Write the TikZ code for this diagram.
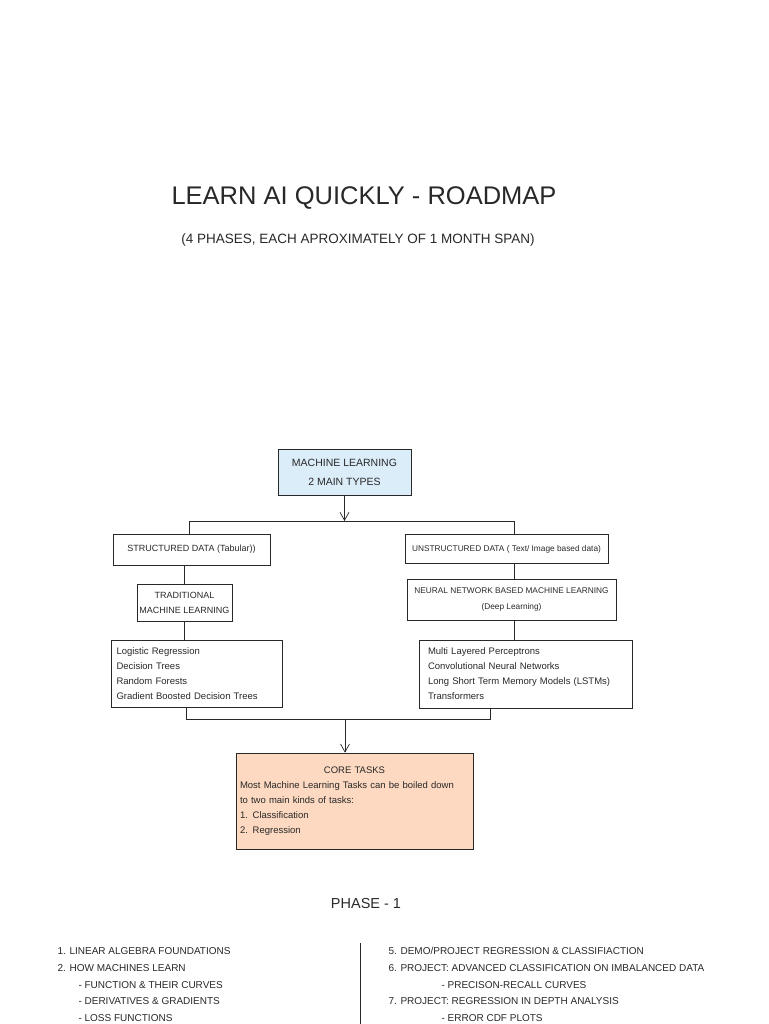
\documentclass[tikz,border=0pt]{standalone}
\usepackage{fontspec}
\setmainfont{Liberation Sans}
\usetikzlibrary{arrows.meta}
\definecolor{mlblue}{RGB}{220,237,250}
\definecolor{peach}{RGB}{252,217,192}
\definecolor{ink}{RGB}{40,40,40}
\begin{document}
\begin{tikzpicture}[x=1pt,y=-1pt,
  box/.style={draw=ink,line width=0.7pt,inner sep=0pt,font=\fontsize{9}{11}\selectfont,text=ink},
  conn/.style={draw=ink,line width=0.7pt},
  arr/.style={conn,-{Straight Barb[length=8pt,width=9pt]}},
  lst/.style={anchor=west,font=\fontsize{10}{12}\selectfont,text=ink}]
\useasboundingbox (0,0) rectangle (768,1024);
\node[text=ink,font=\fontsize{25.5}{30}\selectfont] (title) at (364,198) {LEARN AI QUICKLY - ROADMAP};
\node[text=ink,font=\fontsize{13.5}{16}\selectfont] (sub) at (358,240) {(4 PHASES, EACH APROXIMATELY OF 1 MONTH SPAN)};

\node[box,fill=mlblue,minimum width=133pt,minimum height=46pt,align=center,font=\fontsize{10.5}{19}\selectfont] (ml) at (344.5,472) {MACHINE LEARNING\\2 MAIN TYPES};
\node[box,minimum width=157pt,minimum height=31pt] (sd) at (191.5,549.5) {STRUCTURED DATA (Tabular))};
\node[box,minimum width=203pt,minimum height=29pt,font=\fontsize{8.3}{11}\selectfont] (ud) at (506.5,549) {UNSTRUCTURED DATA ( Text/ Image based data)};
\node[box,minimum width=95pt,minimum height=37pt,align=center,font=\fontsize{9}{15}\selectfont] (tml) at (184.5,602.5) {TRADITIONAL\\MACHINE LEARNING};
\node[box,minimum width=209pt,minimum height=41pt,align=center,font=\fontsize{8.3}{16}\selectfont] (nn) at (511.5,599.5) {NEURAL NETWORK BASED MACHINE LEARNING\\(Deep Learning)};
\node[box,minimum width=171pt,minimum height=67pt,align=left,text width=160pt,inner xsep=5pt,font=\fontsize{9.5}{15}\selectfont] (ll) at (196.5,673.5) {Logistic Regression\\Decision Trees\\Random Forests\\Gradient Boosted Decision Trees};
\node[box,minimum width=213pt,minimum height=68pt,align=left,text width=195pt,inner xsep=5pt,font=\fontsize{9.5}{15}\selectfont] (rl) at (525.5,674) {Multi Layered Perceptrons\\Convolutional Neural Networks\\Long Short Term Memory Models (LSTMs)\\Transformers};
\node[box,fill=peach,minimum width=237pt,minimum height=96pt,align=left,text width=229pt,font=\fontsize{9.5}{15}\selectfont] (core) at (354.5,801) {\centering CORE TASKS\par\raggedright Most Machine Learning Tasks can be boiled down\\to two main kinds of tasks:\\1. Classification\\2. Regression};

\coordinate (j1) at (344.5,521);
\coordinate (j1l) at (189,521);
\coordinate (j1r) at (514,521);
\draw[arr] (ml.south) -- (j1);
\draw[conn] (sd.north -| j1l) |- (j1r) -- (ud.north -| j1r);
\draw[conn] (sd.south -| tml.north) -- (tml.north);
\draw[conn] (ud.south -| 514,0) -- (nn.north -| 514,0);
\draw[conn] (tml.south) -- (ll.north -| tml.south);
\draw[conn] (nn.south -| 514,0) -- (rl.north -| 514,0);
\coordinate (j2) at (345,719);
\draw[conn] (ll.south -| 186,0) |- (490,719) -- (rl.south -| 490,0);
\draw[arr] (j2) -- (core.north -| j2);

\node[text=ink,font=\fontsize{14.5}{17}\selectfont] (ph) at (366,903) {PHASE - 1};
\coordinate (d1) at (360,943);
\coordinate (d2) at (360,1024);
\draw[conn,line width=1pt] (d1) -- (d2);
\node[lst] (a1) at (54,951) {1. LINEAR ALGEBRA FOUNDATIONS};
\node[lst] (a2) at (54,968) {2. HOW MACHINES LEARN};
\node[lst] (a3) at (75,985) {- FUNCTION \& THEIR CURVES};
\node[lst] (a4) at (75,1001) {- DERIVATIVES \& GRADIENTS};
\node[lst] (a5) at (75,1018) {- LOSS FUNCTIONS};
\node[lst] (b1) at (385,951) {5. DEMO/PROJECT REGRESSION \& CLASSIFIACTION};
\node[lst] (b2) at (385,968) {6. PROJECT: ADVANCED CLASSIFICATION ON IMBALANCED DATA};
\node[lst] (b3) at (438,985) {- PRECISON-RECALL CURVES};
\node[lst] (b4) at (385,1001) {7. PROJECT: REGRESSION IN DEPTH ANALYSIS};
\node[lst] (b5) at (438,1018) {- ERROR CDF PLOTS};
\end{tikzpicture}
\end{document}
